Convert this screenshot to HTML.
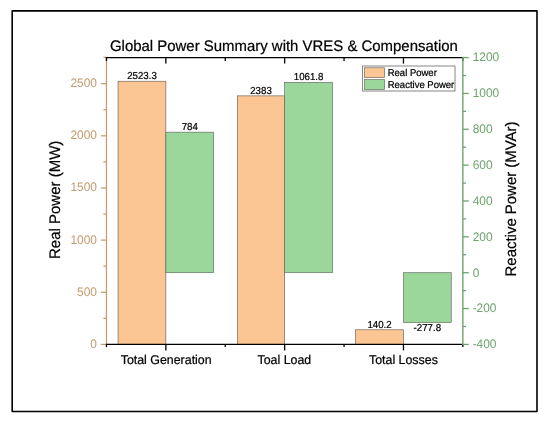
<!DOCTYPE html><html><head><meta charset="utf-8"><title>Global Power Summary</title>
<style>html,body{margin:0;padding:0;background:#fff}svg{display:block}text{font-family:"Liberation Sans",Arial,sans-serif;text-rendering:geometricPrecision}</style></head><body>
<svg width="550" height="422" viewBox="0 0 550 422">
<rect x="0" y="0" width="550" height="422" fill="#fff"/>
<rect x="12.2" y="10.9" width="524.8" height="400.6" fill="none" stroke="#000" stroke-width="1.6" stroke-linejoin="round"/>
<rect x="118.05" y="81.24" width="47.80" height="263.16" fill="#fbc693" stroke="#66605a" stroke-width="0.65"/>
<rect x="165.85" y="132.17" width="47.80" height="140.53" fill="#9bd69b" stroke="#5e685e" stroke-width="0.65"/>
<text transform="translate(141.95,78.74) scale(1,1.04)" font-size="9.7" text-anchor="middle" fill="#000" stroke="#000" stroke-width="0.22">2523.3</text>
<text transform="translate(189.75,129.67) scale(1,1.04)" font-size="9.7" text-anchor="middle" fill="#000" stroke="#000" stroke-width="0.22">784</text>
<rect x="237.35" y="95.87" width="47.30" height="248.53" fill="#fbc693" stroke="#66605a" stroke-width="0.65"/>
<rect x="284.65" y="82.37" width="47.80" height="190.33" fill="#9bd69b" stroke="#5e685e" stroke-width="0.65"/>
<text transform="translate(261.00,94.07) scale(1,1.04)" font-size="9.7" text-anchor="middle" fill="#000" stroke="#000" stroke-width="0.22">2383</text>
<text transform="translate(308.55,79.87) scale(1,1.04)" font-size="9.7" text-anchor="middle" fill="#000" stroke="#000" stroke-width="0.22">1061.8</text>
<rect x="355.65" y="329.78" width="47.80" height="14.62" fill="#fbc693" stroke="#66605a" stroke-width="0.65"/>
<rect x="403.45" y="272.70" width="47.80" height="49.80" fill="#9bd69b" stroke="#5e685e" stroke-width="0.65"/>
<text transform="translate(379.55,327.78) scale(1,1.04)" font-size="9.7" text-anchor="middle" fill="#000" stroke="#000" stroke-width="0.22">140.2</text>
<text transform="translate(427.35,331.20) scale(1,1.04)" font-size="9.7" text-anchor="middle" fill="#000" stroke="#000" stroke-width="0.22">-277.8</text>
<line x1="106.45" y1="56.9" x2="106.45" y2="344.9" stroke="#c39a6c" stroke-width="1.2"/>
<line x1="100.85000000000001" y1="344.40" x2="106.45" y2="344.40" stroke="#c39a6c" stroke-width="1.2"/>
<text transform="translate(96.90,347.90) scale(1,1.04)" font-size="11.9" text-anchor="end" fill="#c39a6c">0</text>
<line x1="103.35000000000001" y1="318.33" x2="106.45" y2="318.33" stroke="#c39a6c" stroke-width="1.2"/>
<line x1="100.85000000000001" y1="292.25" x2="106.45" y2="292.25" stroke="#c39a6c" stroke-width="1.2"/>
<text transform="translate(96.90,295.75) scale(1,1.04)" font-size="11.9" text-anchor="end" fill="#c39a6c">500</text>
<line x1="103.35000000000001" y1="266.18" x2="106.45" y2="266.18" stroke="#c39a6c" stroke-width="1.2"/>
<line x1="100.85000000000001" y1="240.11" x2="106.45" y2="240.11" stroke="#c39a6c" stroke-width="1.2"/>
<text transform="translate(96.90,243.61) scale(1,1.04)" font-size="11.9" text-anchor="end" fill="#c39a6c">1000</text>
<line x1="103.35000000000001" y1="214.04" x2="106.45" y2="214.04" stroke="#c39a6c" stroke-width="1.2"/>
<line x1="100.85000000000001" y1="187.96" x2="106.45" y2="187.96" stroke="#c39a6c" stroke-width="1.2"/>
<text transform="translate(96.90,191.46) scale(1,1.04)" font-size="11.9" text-anchor="end" fill="#c39a6c">1500</text>
<line x1="103.35000000000001" y1="161.89" x2="106.45" y2="161.89" stroke="#c39a6c" stroke-width="1.2"/>
<line x1="100.85000000000001" y1="135.82" x2="106.45" y2="135.82" stroke="#c39a6c" stroke-width="1.2"/>
<text transform="translate(96.90,139.32) scale(1,1.04)" font-size="11.9" text-anchor="end" fill="#c39a6c">2000</text>
<line x1="103.35000000000001" y1="109.75" x2="106.45" y2="109.75" stroke="#c39a6c" stroke-width="1.2"/>
<line x1="100.85000000000001" y1="83.67" x2="106.45" y2="83.67" stroke="#c39a6c" stroke-width="1.2"/>
<text transform="translate(96.90,87.17) scale(1,1.04)" font-size="11.9" text-anchor="end" fill="#c39a6c">2500</text>
<line x1="103.35000000000001" y1="57.30" x2="106.45" y2="57.30" stroke="#c39a6c" stroke-width="1.2"/>
<line x1="105.85000000000001" y1="57.6" x2="463.45000000000005" y2="57.6" stroke="#000" stroke-width="1.4"/>
<line x1="105.85000000000001" y1="344.4" x2="463.45000000000005" y2="344.4" stroke="#000" stroke-width="1.4"/>
<line x1="106.45" y1="344.4" x2="106.45" y2="347.09999999999997" stroke="#000" stroke-width="1.3"/>
<line x1="106.45" y1="57.6" x2="106.45" y2="61.0" stroke="#000" stroke-width="1.3"/>
<line x1="225.25" y1="344.4" x2="225.25" y2="347.09999999999997" stroke="#000" stroke-width="1.3"/>
<line x1="225.25" y1="57.6" x2="225.25" y2="61.0" stroke="#000" stroke-width="1.3"/>
<line x1="344.05" y1="344.4" x2="344.05" y2="347.09999999999997" stroke="#000" stroke-width="1.3"/>
<line x1="344.05" y1="57.6" x2="344.05" y2="61.0" stroke="#000" stroke-width="1.3"/>
<line x1="462.85" y1="344.4" x2="462.85" y2="347.09999999999997" stroke="#000" stroke-width="1.3"/>
<line x1="462.85" y1="57.6" x2="462.85" y2="61.0" stroke="#000" stroke-width="1.3"/>
<line x1="165.85" y1="344.4" x2="165.85" y2="350.4" stroke="#000" stroke-width="1.3"/>
<line x1="165.85" y1="57.6" x2="165.85" y2="63.6" stroke="#000" stroke-width="1.3"/>
<text transform="translate(166.15,363.60) scale(1,1.02)" font-size="12.4" text-anchor="middle" fill="#000" stroke="#000" stroke-width="0.22">Total Generation</text>
<line x1="284.65" y1="344.4" x2="284.65" y2="350.4" stroke="#000" stroke-width="1.3"/>
<line x1="284.65" y1="57.6" x2="284.65" y2="63.6" stroke="#000" stroke-width="1.3"/>
<text transform="translate(284.40,363.60) scale(1,1.02)" font-size="12.4" text-anchor="middle" fill="#000" stroke="#000" stroke-width="0.22">Toal Load</text>
<line x1="403.45" y1="344.4" x2="403.45" y2="350.4" stroke="#000" stroke-width="1.3"/>
<line x1="403.45" y1="57.6" x2="403.45" y2="63.6" stroke="#000" stroke-width="1.3"/>
<text transform="translate(403.40,363.60) scale(1,1.02)" font-size="12.4" text-anchor="middle" fill="#000" stroke="#000" stroke-width="0.22">Total Losses</text>
<line x1="462.85" y1="56.9" x2="462.85" y2="345.09999999999997" stroke="#6ea36e" stroke-width="1.4"/>
<line x1="462.85" y1="344.40" x2="468.75" y2="344.40" stroke="#6ea36e" stroke-width="1.3"/>
<text transform="translate(472.65,348.20) scale(1,1.04)" font-size="11.9" text-anchor="start" fill="#6ea36e">-400</text>
<line x1="462.85" y1="326.47" x2="466.05" y2="326.47" stroke="#6ea36e" stroke-width="1.3"/>
<line x1="462.85" y1="308.55" x2="468.75" y2="308.55" stroke="#6ea36e" stroke-width="1.3"/>
<text transform="translate(472.65,312.35) scale(1,1.04)" font-size="11.9" text-anchor="start" fill="#6ea36e">-200</text>
<line x1="462.85" y1="290.62" x2="466.05" y2="290.62" stroke="#6ea36e" stroke-width="1.3"/>
<line x1="462.85" y1="272.70" x2="468.75" y2="272.70" stroke="#6ea36e" stroke-width="1.3"/>
<text transform="translate(472.65,276.50) scale(1,1.04)" font-size="11.9" text-anchor="start" fill="#6ea36e">0</text>
<line x1="462.85" y1="254.77" x2="466.05" y2="254.77" stroke="#6ea36e" stroke-width="1.3"/>
<line x1="462.85" y1="236.85" x2="468.75" y2="236.85" stroke="#6ea36e" stroke-width="1.3"/>
<text transform="translate(472.65,240.65) scale(1,1.04)" font-size="11.9" text-anchor="start" fill="#6ea36e">200</text>
<line x1="462.85" y1="218.93" x2="466.05" y2="218.93" stroke="#6ea36e" stroke-width="1.3"/>
<line x1="462.85" y1="201.00" x2="468.75" y2="201.00" stroke="#6ea36e" stroke-width="1.3"/>
<text transform="translate(472.65,204.80) scale(1,1.04)" font-size="11.9" text-anchor="start" fill="#6ea36e">400</text>
<line x1="462.85" y1="183.07" x2="466.05" y2="183.07" stroke="#6ea36e" stroke-width="1.3"/>
<line x1="462.85" y1="165.15" x2="468.75" y2="165.15" stroke="#6ea36e" stroke-width="1.3"/>
<text transform="translate(472.65,168.95) scale(1,1.04)" font-size="11.9" text-anchor="start" fill="#6ea36e">600</text>
<line x1="462.85" y1="147.23" x2="466.05" y2="147.23" stroke="#6ea36e" stroke-width="1.3"/>
<line x1="462.85" y1="129.30" x2="468.75" y2="129.30" stroke="#6ea36e" stroke-width="1.3"/>
<text transform="translate(472.65,133.10) scale(1,1.04)" font-size="11.9" text-anchor="start" fill="#6ea36e">800</text>
<line x1="462.85" y1="111.38" x2="466.05" y2="111.38" stroke="#6ea36e" stroke-width="1.3"/>
<line x1="462.85" y1="93.45" x2="468.75" y2="93.45" stroke="#6ea36e" stroke-width="1.3"/>
<text transform="translate(472.65,97.25) scale(1,1.04)" font-size="11.9" text-anchor="start" fill="#6ea36e">1000</text>
<line x1="462.85" y1="75.53" x2="466.05" y2="75.53" stroke="#6ea36e" stroke-width="1.3"/>
<line x1="462.85" y1="57.60" x2="468.75" y2="57.60" stroke="#6ea36e" stroke-width="1.3"/>
<text transform="translate(472.65,61.40) scale(1,1.04)" font-size="11.9" text-anchor="start" fill="#6ea36e">1200</text>
<text transform="translate(283.90,50.80) scale(1,1.02)" font-size="14.95" text-anchor="middle" fill="#000" stroke="#000" stroke-width="0.22">Global Power Summary with VRES &amp; Compensation</text>
<text transform="translate(60.30,199.85) rotate(-90) scale(1,1.02)" font-size="15" text-anchor="middle" fill="#000" stroke="#000" stroke-width="0.22">Real Power (MW)</text>
<text transform="translate(516.10,198.95) rotate(-90) scale(1,1.02)" font-size="14.95" text-anchor="middle" fill="#000" stroke="#000" stroke-width="0.22">Reactive Power (MVAr)</text>
<rect x="362.6" y="66" width="92.4" height="25" fill="#fff" stroke="#707070" stroke-width="0.85"/>
<rect x="364.6" y="67.8" width="20" height="9.8" fill="#fbc693" stroke="#66605a" stroke-width="0.65"/>
<rect x="364.6" y="79.6" width="20" height="9.9" fill="#9bd69b" stroke="#5e685e" stroke-width="0.65"/>
<text transform="translate(387.70,76.00) scale(1,1.04)" font-size="9.5" text-anchor="start" fill="#000" stroke="#000" stroke-width="0.22">Real Power</text>
<text transform="translate(387.70,87.80) scale(1,1.04)" font-size="9.5" text-anchor="start" fill="#000" stroke="#000" stroke-width="0.22">Reactive Power</text>
</svg></body></html>
